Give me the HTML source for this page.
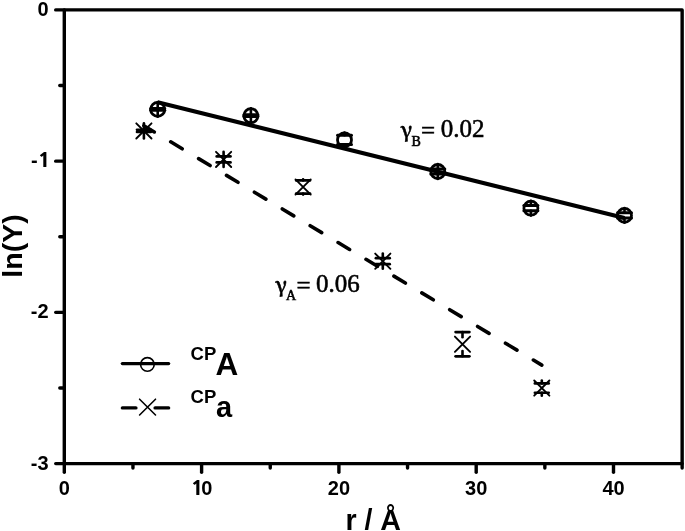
<!DOCTYPE html>
<html><head><meta charset="utf-8"><style>
html,body{margin:0;padding:0;background:#fff;}
body{width:685px;height:531px;overflow:hidden;}
svg{display:block;}
</style></head><body>
<svg width="685" height="531" viewBox="0 0 685 531">
<rect width="685" height="531" fill="#fff"/>
<g stroke="#000" stroke-width="3.4" fill="none" stroke-linecap="round" stroke-linejoin="round">
<path d="M64.3,463.5899999999999 L64.3,9.9 L682.15,9.9 L682.15,463.5899999999999 Z"/>
<line x1="64.30" y1="463.59" x2="64.30" y2="472.29"/>
<line x1="132.95" y1="463.59" x2="132.95" y2="467.99"/>
<line x1="201.60" y1="463.59" x2="201.60" y2="472.29"/>
<line x1="270.25" y1="463.59" x2="270.25" y2="467.99"/>
<line x1="338.90" y1="463.59" x2="338.90" y2="472.29"/>
<line x1="407.55" y1="463.59" x2="407.55" y2="467.99"/>
<line x1="476.20" y1="463.59" x2="476.20" y2="472.29"/>
<line x1="544.85" y1="463.59" x2="544.85" y2="467.99"/>
<line x1="613.50" y1="463.59" x2="613.50" y2="472.29"/>
<line x1="682.15" y1="463.59" x2="682.15" y2="467.99"/>
<line x1="64.3" y1="9.90" x2="55.70" y2="9.90"/>
<line x1="64.3" y1="85.52" x2="59.80" y2="85.52"/>
<line x1="64.3" y1="161.13" x2="55.70" y2="161.13"/>
<line x1="64.3" y1="236.74" x2="59.80" y2="236.74"/>
<line x1="64.3" y1="312.36" x2="55.70" y2="312.36"/>
<line x1="64.3" y1="387.97" x2="59.80" y2="387.97"/>
<line x1="64.3" y1="463.59" x2="55.70" y2="463.59"/>
</g>
<g font-family="Liberation Sans, Arial, sans-serif" font-weight="bold" font-size="20" fill="#000">
<text x="48.6" y="15.90" text-anchor="end">0</text>
<text x="31.1" y="167.13">-</text>
<text transform="translate(37.60,167.13) scale(1.22,1)" font-family="NanumGothic, Liberation Sans, sans-serif" font-weight="800" font-size="18.6">1</text>
<text x="48.6" y="318.36" text-anchor="end">-2</text>
<text x="48.6" y="469.59" text-anchor="end">-3</text>
<text x="64.30" y="494.7" text-anchor="middle">0</text>
<text transform="translate(190.50,494.70) scale(1.22,1)" font-family="NanumGothic, Liberation Sans, sans-serif" font-weight="800" font-size="18.6">1</text>
<text x="201.3" y="494.7">0</text>
<text x="338.90" y="494.7" text-anchor="middle">20</text>
<text x="476.20" y="494.7" text-anchor="middle">30</text>
<text x="613.50" y="494.7" text-anchor="middle">40</text>
</g>
<text x="373.2" y="529.5" text-anchor="middle" font-family="Liberation Sans, Arial, sans-serif" font-weight="bold" font-size="28.6">r / Å</text>
<text transform="translate(22.2,246) rotate(-90)" text-anchor="middle" font-family="Liberation Sans, Arial, sans-serif" font-weight="bold" font-size="28.5">ln(Y)</text>
<line x1="157.6" y1="102.2" x2="624.5" y2="218.0" stroke="#000" stroke-width="4.0" stroke-linecap="butt"/>
<line x1="143.9" y1="125.7" x2="541.8" y2="365.1" stroke="#000" stroke-width="3.6" stroke-dasharray="13.4 19.16" stroke-linecap="round" stroke-dashoffset="1.28"/>
<g stroke="#000" fill="none" stroke-linecap="round">
<circle cx="157.7" cy="109.4" r="7.0" stroke-width="2.8"/>
<line x1="150.70" y1="108.55" x2="164.70" y2="108.55" stroke-width="3.0"/>
<line x1="157.7" y1="108.55" x2="157.7" y2="102.00" stroke-width="2.6"/>
<line x1="150.70" y1="110.25" x2="164.70" y2="110.25" stroke-width="3.0"/>
<line x1="157.7" y1="110.25" x2="157.7" y2="116.80" stroke-width="2.6"/>
<circle cx="250.9" cy="115.7" r="7.0" stroke-width="2.8"/>
<line x1="243.90" y1="114.85" x2="257.90" y2="114.85" stroke-width="3.0"/>
<line x1="250.9" y1="114.85" x2="250.9" y2="108.30" stroke-width="2.6"/>
<line x1="243.90" y1="116.55" x2="257.90" y2="116.55" stroke-width="3.0"/>
<line x1="250.9" y1="116.55" x2="250.9" y2="123.10" stroke-width="2.6"/>
<circle cx="344.5" cy="139.9" r="7.0" stroke-width="2.8"/>
<line x1="337.50" y1="135.20" x2="351.50" y2="135.20" stroke-width="3.0"/>
<line x1="344.5" y1="135.20" x2="344.5" y2="132.50" stroke-width="2.6"/>
<line x1="337.50" y1="144.60" x2="351.50" y2="144.60" stroke-width="3.0"/>
<line x1="344.5" y1="144.60" x2="344.5" y2="147.30" stroke-width="2.6"/>
<circle cx="437.8" cy="171.5" r="7.0" stroke-width="2.8"/>
<line x1="430.80" y1="169.00" x2="444.80" y2="169.00" stroke-width="3.0"/>
<line x1="437.8" y1="169.00" x2="437.8" y2="164.10" stroke-width="2.6"/>
<line x1="430.80" y1="174.00" x2="444.80" y2="174.00" stroke-width="3.0"/>
<line x1="437.8" y1="174.00" x2="437.8" y2="178.90" stroke-width="2.6"/>
<circle cx="530.9" cy="208.2" r="7.0" stroke-width="2.8"/>
<line x1="523.90" y1="205.60" x2="537.90" y2="205.60" stroke-width="3.0"/>
<line x1="530.9" y1="205.60" x2="530.9" y2="200.80" stroke-width="2.6"/>
<line x1="523.90" y1="210.80" x2="537.90" y2="210.80" stroke-width="3.0"/>
<line x1="530.9" y1="210.80" x2="530.9" y2="215.60" stroke-width="2.6"/>
<circle cx="624.5" cy="215.4" r="7.0" stroke-width="2.8"/>
<line x1="617.50" y1="212.70" x2="631.50" y2="212.70" stroke-width="3.0"/>
<line x1="624.5" y1="212.70" x2="624.5" y2="208.00" stroke-width="2.6"/>
<line x1="617.50" y1="218.10" x2="631.50" y2="218.10" stroke-width="3.0"/>
<line x1="624.5" y1="218.10" x2="624.5" y2="222.80" stroke-width="2.6"/>
</g>
<g stroke="#000" fill="none" stroke-linecap="round">
<path d="M136.30,123.30 L151.50,138.50 M136.30,138.50 L151.50,123.30" stroke-width="1.9"/>
<line x1="137.00" y1="129.80" x2="150.80" y2="129.80" stroke-width="2.7"/>
<line x1="143.9" y1="129.80" x2="143.9" y2="123.30" stroke-width="2.6"/>
<line x1="137.00" y1="132.00" x2="150.80" y2="132.00" stroke-width="2.7"/>
<line x1="143.9" y1="132.00" x2="143.9" y2="138.50" stroke-width="2.6"/>
<path d="M216.00,151.80 L231.20,167.00 M216.00,167.00 L231.20,151.80" stroke-width="1.9"/>
<line x1="216.70" y1="156.40" x2="230.50" y2="156.40" stroke-width="2.7"/>
<line x1="223.6" y1="156.40" x2="223.6" y2="151.80" stroke-width="2.6"/>
<line x1="216.70" y1="162.40" x2="230.50" y2="162.40" stroke-width="2.7"/>
<line x1="223.6" y1="162.40" x2="223.6" y2="167.00" stroke-width="2.6"/>
<path d="M295.50,179.40 L310.70,194.60 M295.50,194.60 L310.70,179.40" stroke-width="1.9"/>
<line x1="296.20" y1="180.40" x2="310.00" y2="180.40" stroke-width="2.7"/>
<line x1="303.1" y1="180.40" x2="303.1" y2="179.40" stroke-width="2.6"/>
<line x1="296.20" y1="193.60" x2="310.00" y2="193.60" stroke-width="2.7"/>
<line x1="303.1" y1="193.60" x2="303.1" y2="194.60" stroke-width="2.6"/>
<path d="M375.20,253.60 L390.40,268.80 M375.20,268.80 L390.40,253.60" stroke-width="1.9"/>
<line x1="375.90" y1="258.20" x2="389.70" y2="258.20" stroke-width="2.7"/>
<line x1="382.8" y1="258.20" x2="382.8" y2="253.60" stroke-width="2.6"/>
<line x1="375.90" y1="264.20" x2="389.70" y2="264.20" stroke-width="2.7"/>
<line x1="382.8" y1="264.20" x2="382.8" y2="268.80" stroke-width="2.6"/>
<path d="M454.90,336.60 L470.10,351.80 M454.90,351.80 L470.10,336.60" stroke-width="1.9"/>
<line x1="455.60" y1="332.10" x2="469.40" y2="332.10" stroke-width="2.7"/>
<line x1="462.5" y1="332.10" x2="462.5" y2="337.30" stroke-width="2.6"/>
<line x1="455.60" y1="356.30" x2="469.40" y2="356.30" stroke-width="2.7"/>
<line x1="462.5" y1="356.30" x2="462.5" y2="351.10" stroke-width="2.6"/>
<path d="M534.20,380.50 L549.40,395.70 M534.20,395.70 L549.40,380.50" stroke-width="1.9"/>
<line x1="534.90" y1="383.45" x2="548.70" y2="383.45" stroke-width="2.7"/>
<line x1="541.8" y1="383.45" x2="541.8" y2="380.50" stroke-width="2.6"/>
<line x1="534.90" y1="392.75" x2="548.70" y2="392.75" stroke-width="2.7"/>
<line x1="541.8" y1="392.75" x2="541.8" y2="395.70" stroke-width="2.6"/>
</g>
<g stroke="#000" fill="none" stroke-linecap="round">
<line x1="122.4" y1="363.6" x2="168.6" y2="363.6" stroke-width="3.4"/>
<circle cx="147.4" cy="364.4" r="6.8" stroke-width="1.6"/>
<line x1="122.4" y1="407.9" x2="135.9" y2="407.9" stroke-width="3.4"/>
<line x1="155.1" y1="407.9" x2="168.6" y2="407.9" stroke-width="3.4"/>
<path d="M139.6,399.2 L155.5,415 M139.6,415 L155.5,399.2" stroke-width="1.6"/>
</g>
<g font-family="Liberation Sans, Arial, sans-serif" font-weight="bold" fill="#000">
<text x="190.6" y="359.6" font-size="18.5">CP</text>
<text x="215.6" y="375" font-size="31.5">A</text>
<text x="190.6" y="402.5" font-size="18.5">CP</text>
<text x="216" y="417.2" font-size="29">a</text>
</g>
<g font-family="Liberation Serif, Times New Roman, serif" fill="#000" stroke="#000" stroke-width="0.55">
<text x="400.6" y="136.8" font-size="21" font-family="Noto Serif CJK SC, Liberation Serif, serif" font-weight="600">γ</text>
<text x="411.4" y="145.6" font-size="14">B</text>
<text x="421" y="138.5" font-size="25">=</text>
<text x="440.8" y="137.2" font-size="25">0.02</text>
<text x="275.3" y="291.6" font-size="21" font-family="Noto Serif CJK SC, Liberation Serif, serif" font-weight="600">γ</text>
<text x="285.9" y="300.3" font-size="14">A</text>
<text x="296.4" y="294.1" font-size="25">=</text>
<text x="316.1" y="291.9" font-size="25">0.06</text>
</g>
</svg>
</body></html>
